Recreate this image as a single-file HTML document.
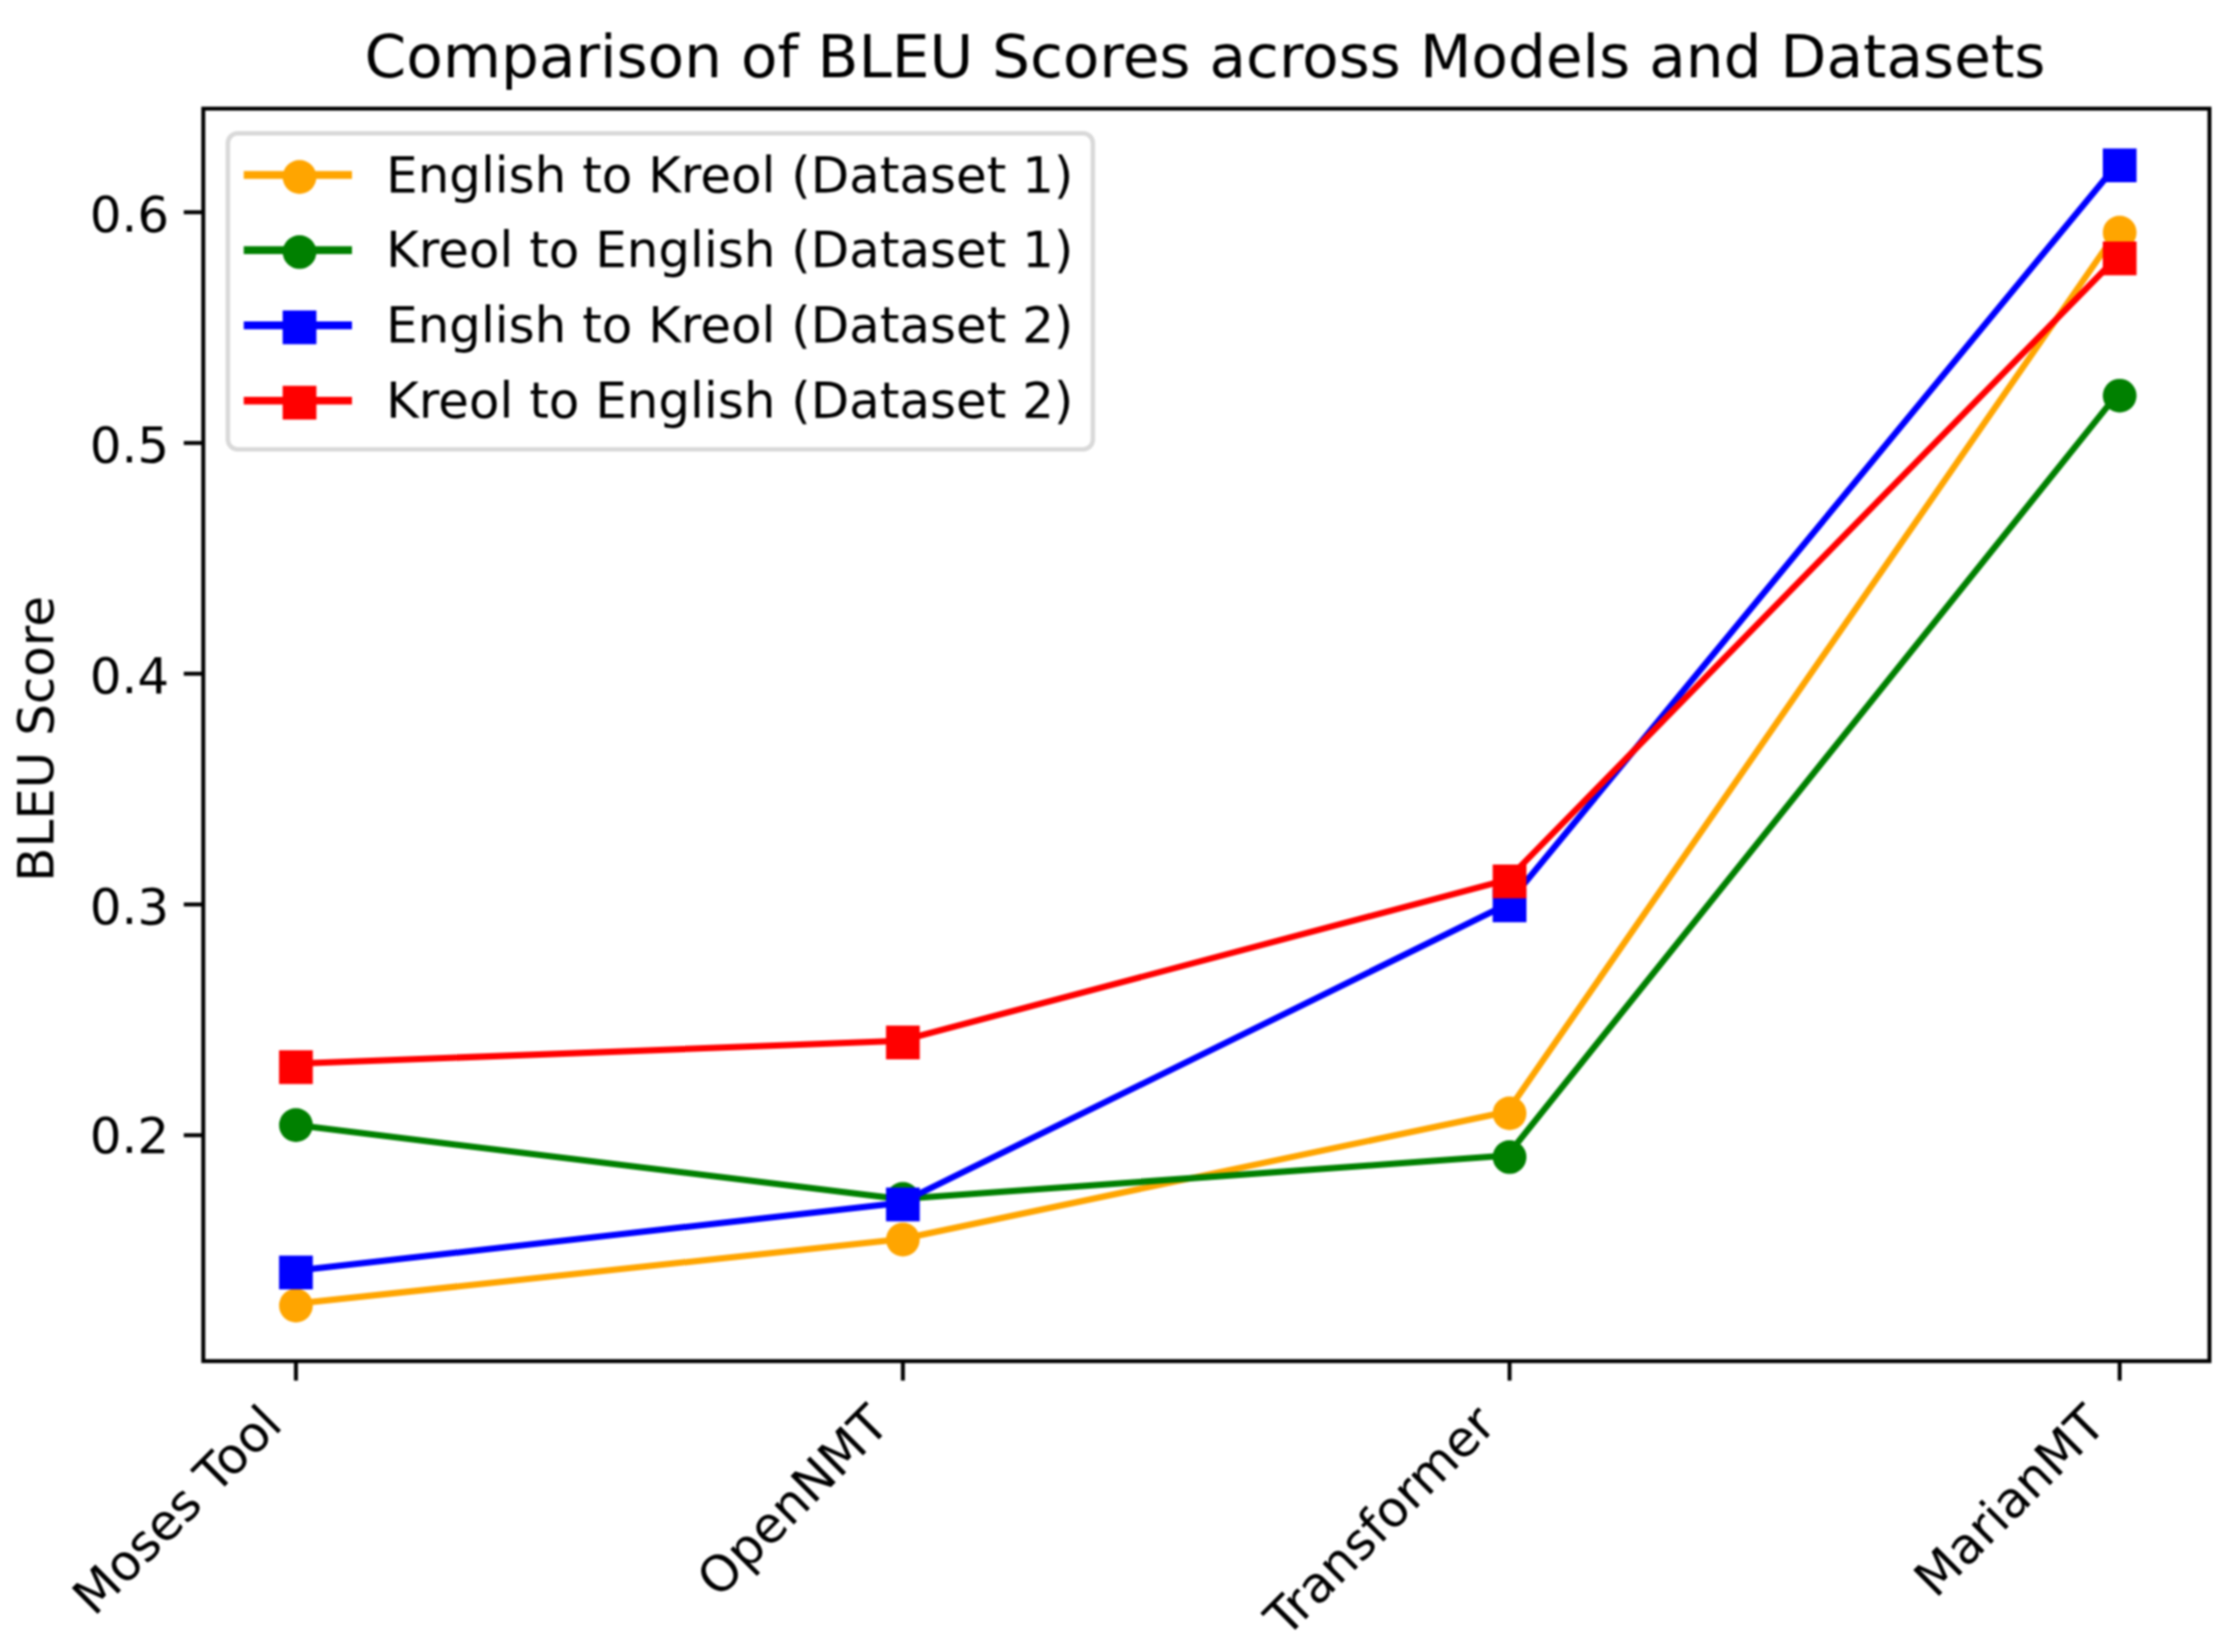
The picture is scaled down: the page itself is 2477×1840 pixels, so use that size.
<!DOCTYPE html>
<html lang="en"><head><meta charset="utf-8"><title>Comparison of BLEU Scores across Models and Datasets</title>
<style>html,body{margin:0;padding:0;background:#fff}body{width:2477px;height:1840px;overflow:hidden}svg{display:block;filter:blur(1.1px)}text{font-family:"DejaVu Sans","Liberation Sans",sans-serif;fill:#000}</style></head><body>
<svg width="2477" height="1840" viewBox="0 0 2477 1840">
<rect width="2477" height="1840" fill="#fff"/>
<polyline points="327.1,1452.3 1003.1,1380.3 1678.8,1238.2 2358.3,257.2" fill="none" stroke="#ffa500" stroke-width="7.0" stroke-linejoin="round" stroke-linecap="butt"/>
<circle cx="329.6" cy="1454.1" r="18.80" fill="#ffa500"/>
<circle cx="1005.6" cy="1380.6" r="18.80" fill="#ffa500"/>
<circle cx="1681.3" cy="1240.0" r="18.80" fill="#ffa500"/>
<circle cx="2360.8" cy="259.0" r="18.80" fill="#ffa500"/>
<polyline points="327.1,1252.8 1003.1,1335.5 1678.8,1287.0 2358.3,438.9" fill="none" stroke="#008000" stroke-width="7.0" stroke-linejoin="round" stroke-linecap="butt"/>
<circle cx="329.6" cy="1253.1" r="18.80" fill="#008000"/>
<circle cx="1005.6" cy="1335.3" r="18.80" fill="#008000"/>
<circle cx="1681.3" cy="1288.8" r="18.80" fill="#008000"/>
<circle cx="2360.8" cy="440.7" r="18.80" fill="#008000"/>
<polyline points="327.1,1415.5 1003.1,1339.7 1678.8,1007.1 2358.3,182.4" fill="none" stroke="#0000ff" stroke-width="7.0" stroke-linejoin="round" stroke-linecap="butt"/>
<rect x="310.8" y="1398.5" width="37.6" height="37.6" fill="#0000ff"/>
<rect x="986.8" y="1322.7" width="37.6" height="37.6" fill="#0000ff"/>
<rect x="1662.5" y="989.6" width="37.6" height="37.6" fill="#0000ff"/>
<rect x="2342.0" y="165.4" width="37.6" height="37.6" fill="#0000ff"/>
<polyline points="327.1,1184.8 1003.1,1159.3 1678.8,979.9 2358.3,286.0" fill="none" stroke="#ff0000" stroke-width="7.0" stroke-linejoin="round" stroke-linecap="butt"/>
<rect x="310.8" y="1169.8" width="37.6" height="37.6" fill="#ff0000"/>
<rect x="986.8" y="1142.3" width="37.6" height="37.6" fill="#ff0000"/>
<rect x="1662.5" y="962.9" width="37.6" height="37.6" fill="#ff0000"/>
<rect x="2342.0" y="269.0" width="37.6" height="37.6" fill="#ff0000"/>
<rect x="226.4" y="121.0" width="2234.4" height="1395.0" fill="none" stroke="#000" stroke-width="4.4"/>
<line x1="204.7" y1="236.4" x2="226.4" y2="236.4" stroke="#000" stroke-width="4.4"/>
<text x="188.3" y="258.4" font-size="55.6" text-anchor="end">0.6</text>
<line x1="204.7" y1="493.4" x2="226.4" y2="493.4" stroke="#000" stroke-width="4.4"/>
<text x="188.3" y="515.4" font-size="55.6" text-anchor="end">0.5</text>
<line x1="204.7" y1="750.4" x2="226.4" y2="750.4" stroke="#000" stroke-width="4.4"/>
<text x="188.3" y="772.4" font-size="55.6" text-anchor="end">0.4</text>
<line x1="204.7" y1="1007.4" x2="226.4" y2="1007.4" stroke="#000" stroke-width="4.4"/>
<text x="188.3" y="1029.4" font-size="55.6" text-anchor="end">0.3</text>
<line x1="204.7" y1="1264.4" x2="226.4" y2="1264.4" stroke="#000" stroke-width="4.4"/>
<text x="188.3" y="1283.9" font-size="55.6" text-anchor="end">0.2</text>
<line x1="329.6" y1="1516.0" x2="329.6" y2="1537.7" stroke="#000" stroke-width="4.4"/>
<text transform="translate(288.4,1561.0) rotate(-45)" font-size="55.6" text-anchor="end" y="40">Moses Tool</text>
<line x1="1005.6" y1="1516.0" x2="1005.6" y2="1537.7" stroke="#000" stroke-width="4.4"/>
<text transform="translate(964.4,1561.0) rotate(-45)" font-size="55.6" text-anchor="end" y="40">OpenNMT</text>
<line x1="1681.3" y1="1516.0" x2="1681.3" y2="1537.7" stroke="#000" stroke-width="4.4"/>
<text transform="translate(1640.1,1561.0) rotate(-45)" font-size="55.6" text-anchor="end" y="40">Transformer</text>
<line x1="2360.8" y1="1516.0" x2="2360.8" y2="1537.7" stroke="#000" stroke-width="4.4"/>
<text transform="translate(2319.6,1561.0) rotate(-45)" font-size="55.6" text-anchor="end" y="40">MarianMT</text>
<text transform="translate(59.2,823.0) rotate(-90)" font-size="55.6" text-anchor="middle">BLEU Score</text>
<text x="1342.1" y="85.5" font-size="66.5" text-anchor="middle">Comparison of BLEU Scores across Models and Datasets</text>
<rect x="253.8" y="148.4" width="963.4" height="352" rx="11" ry="11" fill="#fff" fill-opacity="0.8" stroke="#d9d9d9" stroke-width="5"/>
<line x1="271.5" y1="194.9" x2="392" y2="194.9" stroke="#ffa500" stroke-width="8.6"/>
<circle cx="333.6" cy="197.1" r="18.80" fill="#ffa500"/>
<text x="430" y="213.6" font-size="55.6">English to Kreol (Dataset 1)</text>
<line x1="271.5" y1="278.6" x2="392" y2="278.6" stroke="#008000" stroke-width="8.6"/>
<circle cx="333.6" cy="280.8" r="18.80" fill="#008000"/>
<text x="430" y="297.3" font-size="55.6">Kreol to English (Dataset 1)</text>
<line x1="271.5" y1="362.4" x2="392" y2="362.4" stroke="#0000ff" stroke-width="8.6"/>
<rect x="314.8" y="345.8" width="37.6" height="37.6" fill="#0000ff"/>
<text x="430" y="381.1" font-size="55.6">English to Kreol (Dataset 2)</text>
<line x1="271.5" y1="446.3" x2="392" y2="446.3" stroke="#ff0000" stroke-width="8.6"/>
<rect x="314.8" y="429.7" width="37.6" height="37.6" fill="#ff0000"/>
<text x="430" y="465.0" font-size="55.6">Kreol to English (Dataset 2)</text>
</svg></body></html>
